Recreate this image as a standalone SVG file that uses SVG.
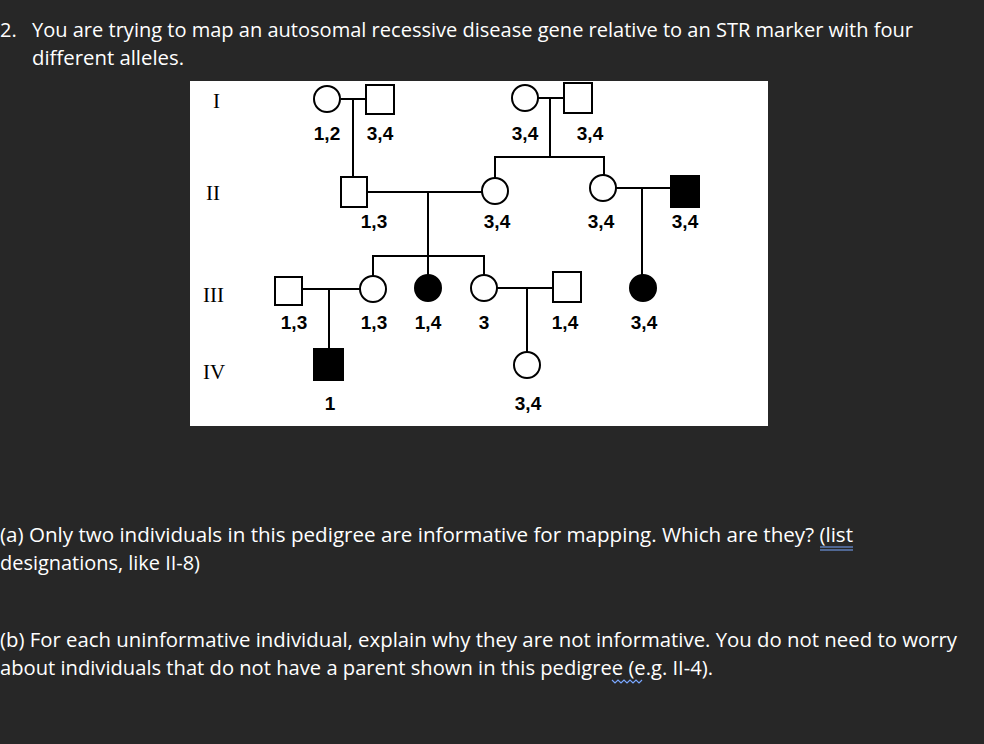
<svg xmlns="http://www.w3.org/2000/svg" width="984" height="744" viewBox="0 0 984 744">
<style>
.t{font-family:"Open Sans","Liberation Sans",sans-serif;font-size:20px;fill:#fff}
.g{font-family:"Liberation Serif",serif;font-size:21px;fill:#000}
.l{font-family:"Liberation Sans",Arial,sans-serif;font-size:19px;font-weight:bold;fill:#000;text-anchor:middle}
.s{fill:#fff;stroke:#000;stroke-width:2}
.f{fill:#000;stroke:#000;stroke-width:2}
.c line,.c polyline{stroke:#000;stroke-width:2;fill:none}
</style>
<rect width="984" height="744" fill="#272727"/>
<text class="t" x="0" y="37">2.</text>
<text class="t" x="32" y="37" textLength="881" lengthAdjust="spacingAndGlyphs">You are trying to map an autosomal recessive disease gene relative to an STR marker with four</text>
<text class="t" x="32" y="65" textLength="152" lengthAdjust="spacingAndGlyphs">different alleles.</text>
<text class="t" x="0" y="542" textLength="853" lengthAdjust="spacingAndGlyphs">(a) Only two individuals in this pedigree are informative for mapping.  Which are they?  (list</text>
<text class="t" x="0" y="570" textLength="200" lengthAdjust="spacingAndGlyphs">designations, like II-8)</text>
<line x1="820" y1="547" x2="853" y2="547" stroke="#7aa7ff" stroke-width="1.2"/>
<line x1="820" y1="550" x2="853" y2="550" stroke="#7aa7ff" stroke-width="1.2"/>
<text class="t" x="0" y="647" textLength="957" lengthAdjust="spacingAndGlyphs">(b) For each uninformative individual, explain why they are not informative.  You do not need to worry</text>
<text class="t" x="0" y="675" textLength="713" lengthAdjust="spacingAndGlyphs">about individuals that do not have a parent shown in this pedigree (e.g. II-4).</text>
<polyline points="612,680 615,683 618,680 621,683 624,680 627,683 630,680 633,683 636,680 639,683 642,680" fill="none" stroke="#7aa7ff" stroke-width="1.2"/>
<rect x="190" y="81" width="578" height="345" fill="#fff"/>
<g id="gen-labels">
<text class="g" x="213" y="108">I</text>
<text class="g" x="206" y="200">II</text>
<text class="g" x="203" y="302">III</text>
<text class="g" x="203" y="379">IV</text>
</g>
<g id="connectors" class="c">
<line x1="341" y1="99" x2="366" y2="99"/>
<line x1="353" y1="99" x2="353" y2="177"/>
<line x1="538" y1="98" x2="564" y2="98"/>
<line x1="550" y1="98" x2="550" y2="157"/>
<polyline points="495,178 495,157 604,157 604,175"/>
<line x1="367" y1="192" x2="482" y2="192"/>
<line x1="428" y1="192" x2="428" y2="256"/>
<polyline points="373,276 373,256 484,256 484,275"/>
<line x1="428" y1="256" x2="428" y2="275"/>
<line x1="616" y1="188" x2="671" y2="188"/>
<line x1="642" y1="188" x2="642" y2="275"/>
<line x1="302" y1="289" x2="360" y2="289"/>
<line x1="329" y1="289" x2="329" y2="349"/>
<line x1="497" y1="288" x2="553" y2="288"/>
<line x1="527" y1="288" x2="527" y2="352"/>
</g>
<g id="I-1"><circle class="s" cx="327" cy="99" r="13"/><text class="l" x="327" y="140">1,2</text></g>
<g id="I-2"><rect class="s" x="366" y="85" width="28" height="29"/><text class="l" x="380" y="140">3,4</text></g>
<g id="I-3"><circle class="s" cx="525" cy="98" r="13"/><text class="l" x="525" y="140">3,4</text></g>
<g id="I-4"><rect class="s" x="564" y="83" width="28" height="30"/><text class="l" x="590" y="140">3,4</text></g>
<g id="II-1"><rect class="s" x="341" y="177" width="26" height="30"/><text class="l" x="374" y="228">1,3</text></g>
<g id="II-2"><circle class="s" cx="495" cy="191" r="13"/><text class="l" x="497" y="228">3,4</text></g>
<g id="II-3"><circle class="s" cx="603" cy="188" r="13"/><text class="l" x="601" y="228">3,4</text></g>
<g id="II-4"><rect class="f" x="671" y="176" width="28" height="31"/><text class="l" x="685" y="228">3,4</text></g>
<g id="III-1"><rect class="s" x="275" y="277" width="27" height="28"/><text class="l" x="294" y="329">1,3</text></g>
<g id="III-2"><circle class="s" cx="373" cy="289" r="13"/><text class="l" x="374" y="329">1,3</text></g>
<g id="III-3"><circle class="f" cx="428" cy="288" r="13"/><text class="l" x="428" y="329">1,4</text></g>
<g id="III-4"><circle class="s" cx="484" cy="288" r="13"/><text class="l" x="484" y="329">3</text></g>
<g id="III-5"><rect class="s" x="553" y="272" width="28" height="30"/><text class="l" x="565" y="329">1,4</text></g>
<g id="III-6"><circle class="f" cx="643" cy="288" r="13"/><text class="l" x="644" y="329">3,4</text></g>
<g id="IV-1"><rect class="f" x="314" y="349" width="29" height="31"/><text class="l" x="330" y="410">1</text></g>
<g id="IV-2"><circle class="s" cx="527" cy="365" r="13"/><text class="l" x="528" y="410">3,4</text></g>
</svg>
